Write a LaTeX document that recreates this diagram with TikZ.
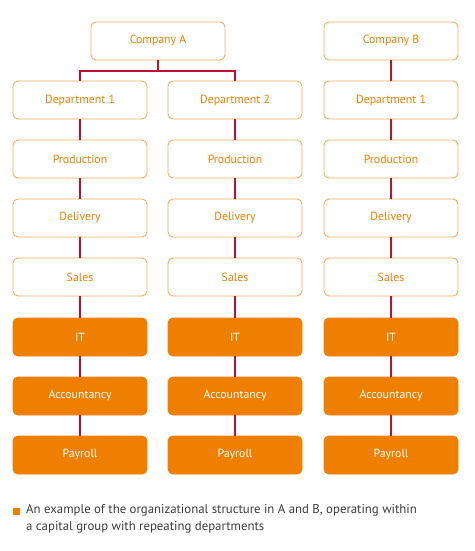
\documentclass[tikz,border=0pt]{standalone}
\usepackage{fontspec}
\setmainfont{PT Sans}
\usetikzlibrary{calc}

\definecolor{orgorange}{HTML}{EE7F00}
\definecolor{orgline}{HTML}{C01030}
\definecolor{captiongray}{HTML}{3C3C3C}

\tikzset{
    unitbox/.style = {draw = orgorange!65, line width = 0.9pt, rounded corners = 5pt,
        minimum width = 134pt, minimum height = 38pt, inner sep = 0pt,
        text = orgorange, font = \fontsize{11.8}{13}\selectfont},
    unitfill/.style = {unitbox, draw = orgorange, fill = orgorange, text = white},
    link/.style = {orgline, line width = 1.5pt}
}

\begin{document}
\begin{tikzpicture}[x = 1pt, y = -1pt]
            \useasboundingbox (0, 0) rectangle (474, 551);
            
            \node[unitbox] (compA) at (158, 41) {Company A};
            \node[unitbox] (compB) at (391, 41) {Company B};
            \coordinate (forkA) at (158, 71);
            
            \foreach \col/\x/\dep in {1/80/Department 1, 2/235/Department 2, 3/391/Department 1} {
                \node[unitbox] (dep\col) at (\x, 100) {\dep};
                \node[unitbox] (prod\col) at (\x, 159) {Production};
                \node[unitbox] (del\col) at (\x, 218) {Delivery};
                \node[unitbox] (sales\col) at (\x, 277) {Sales};
                \node[unitfill] (it\col) at (\x, 337) {IT};
                \node[unitfill] (acc\col) at (\x, 396) {Accountancy};
                \node[unitfill] (pay\col) at (\x, 455) {Payroll};
                
                \draw[link] (dep\col.south) -- (prod\col.north);
                \draw[link] (prod\col.south) -- (del\col.north);
                \draw[link] (del\col.south) -- (sales\col.north);
                \draw[link] (sales\col.south) -- (it\col.north);
                \draw[link] (it\col.south) -- (acc\col.north);
                \draw[link] (acc\col.south) -- (pay\col.north);
            }
            
            \draw[link] (compA.south) -- (forkA);
            \draw[link] (dep1.north) |- (forkA) -| (dep2.north);
            \draw[link] (compB.south) -- (dep3.north);
            
            \fill[orgorange] (13, 508) rectangle (20, 515);
            \node[anchor = north west, align = left, inner sep = 0pt, text = captiongray,
                font = \fontsize{12.8}{17}\selectfont] (caption) at (26, 504)
                {An example of the organizational structure in A and B, operating within\\
                 a capital group with repeating departments};
        \end{tikzpicture}
\end{document}
